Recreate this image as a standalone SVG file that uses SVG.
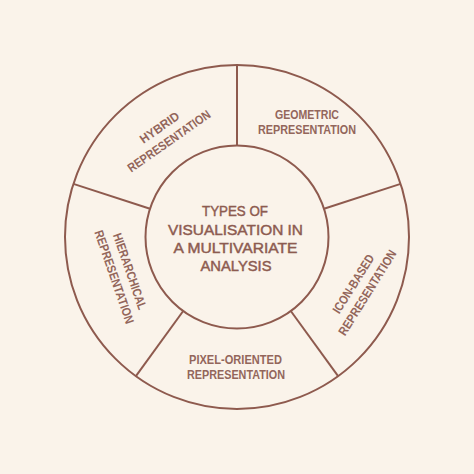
<svg xmlns="http://www.w3.org/2000/svg" width="474" height="474" viewBox="0 0 474 474">
<style>
.ring{fill:none;stroke:#8e5a4e;stroke-width:2}
.seg{font-family:"Liberation Sans",Arial,sans-serif;font-size:12.5px;font-weight:bold;fill:#93665b;text-anchor:middle}
.ctr{font-family:"Liberation Sans",Arial,sans-serif;font-size:14.5px;fill:#8d5b50;stroke:#8d5b50;stroke-width:0.45;text-anchor:middle}
</style>
<rect width="474" height="474" fill="#faf3ea"/>
<g id="connectors">
<circle class="ring" cx="237" cy="237" r="172"/>
<line class="ring" x1="237" y1="145.5" x2="237" y2="65"/>
<line class="ring" x1="324" y1="208.7" x2="400.6" y2="183.9"/>
<line class="ring" x1="290.8" y1="311" x2="338.1" y2="376.1"/>
<line class="ring" x1="183.2" y1="311" x2="135.9" y2="376.1"/>
<line class="ring" x1="150" y1="208.7" x2="73.4" y2="183.9"/>
</g>
<g id="center">
<circle class="ring" cx="237" cy="237" r="91.5"/>
<text class="ctr" x="235" y="216" textLength="66" lengthAdjust="spacingAndGlyphs">TYPES OF</text>
<text class="ctr" x="235.5" y="235" textLength="135" lengthAdjust="spacingAndGlyphs">VISUALISATION IN</text>
<text class="ctr" x="235.5" y="253" textLength="124" lengthAdjust="spacingAndGlyphs">A MULTIVARIATE</text>
<text class="ctr" x="236" y="271" textLength="71" lengthAdjust="spacingAndGlyphs">ANALYSIS</text>
</g>
<g id="geometric">
<text class="seg" x="307" y="118.5" textLength="64" lengthAdjust="spacingAndGlyphs">GEOMETRIC</text>
<text class="seg" x="307" y="134" textLength="98" lengthAdjust="spacingAndGlyphs">REPRESENTATION</text>
</g>
<g id="icon-based" transform="translate(360,288) rotate(-58)">
<text class="seg" x="0" y="-3.5" textLength="67" lengthAdjust="spacingAndGlyphs">ICON-BASED</text>
<text class="seg" x="0" y="13" textLength="98" lengthAdjust="spacingAndGlyphs">REPRESENTATION</text>
</g>
<g id="pixel-oriented">
<text class="seg" x="235.5" y="363.5" textLength="93" lengthAdjust="spacingAndGlyphs">PIXEL-ORIENTED</text>
<text class="seg" x="236" y="379" textLength="98" lengthAdjust="spacingAndGlyphs">REPRESENTATION</text>
</g>
<g id="hierarchical" transform="translate(122.5,274) rotate(71)">
<text class="seg" x="0" y="-3.5" textLength="80" lengthAdjust="spacingAndGlyphs">HIERARCHICAL</text>
<text class="seg" x="0" y="13" textLength="98" lengthAdjust="spacingAndGlyphs">REPRESENTATION</text>
</g>
<g id="hybrid" transform="translate(164,134) rotate(-35)">
<text class="seg" x="0" y="-3.5" textLength="45" lengthAdjust="spacingAndGlyphs">HYBRID</text>
<text class="seg" x="0" y="13" textLength="98" lengthAdjust="spacingAndGlyphs">REPRESENTATION</text>
</g>
</svg>
